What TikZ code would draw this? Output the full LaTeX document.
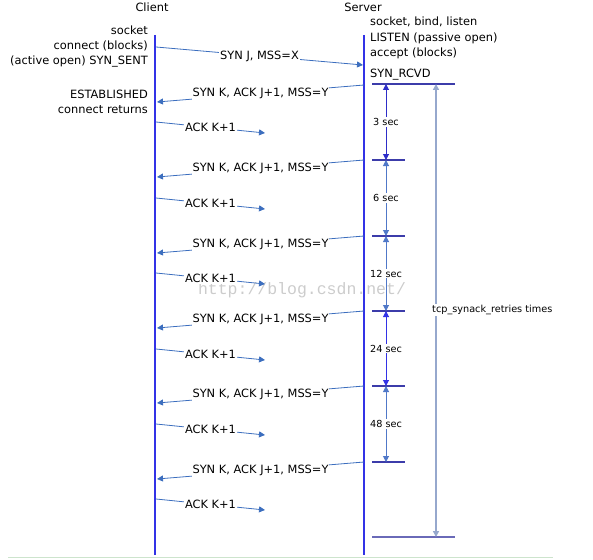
\documentclass[tikz,border=0pt]{standalone}
\usepackage{fontspec}
\setmainfont{DejaVu Sans}
\newfontfamily\markfont{Liberation Mono}
\usetikzlibrary{arrows.meta}

\definecolor{lifeblue}{RGB}{50,50,230}
\definecolor{msgblue}{RGB}{60,110,190}
\definecolor{tickblue}{RGB}{60,60,170}
\definecolor{timerdark}{RGB}{45,45,200}
\definecolor{timersteel}{RGB}{80,120,200}
\definecolor{retryblue}{RGB}{150,168,205}
\definecolor{floorgreen}{RGB}{205,228,205}

\begin{document}
\begin{tikzpicture}[x=1pt, y=-1pt,
    txt/.style={inner sep=0pt, font=\fontsize{11.4}{13}\selectfont},
    small/.style={inner sep=1pt, fill=white, text=black, font=\fontsize{9.7}{11}\selectfont},
    lifeline/.style={draw=lifeblue, line width=2pt},
    msg/.style={draw=msgblue, line width=0.8pt,
        -{Triangle[width=6pt,length=6pt]}},
    msglabel/.style={txt, fill=white, inner sep=1pt},
    tick/.style={draw=tickblue, line width=1.2pt},
    timer/.style={line width=1pt, {Triangle[width=6pt,length=6pt]}-{Triangle[width=6pt,length=6pt]}}
]
    \useasboundingbox (0,0) rectangle (593,559);

    % watermark
    \node[text=gray!40, font=\markfont\fontsize{16.5}{18}\selectfont] (mark) at (302,290) {http://blog.csdn.net/};

    % lifelines
    \node[txt] (client) at (152,7) {Client};
    \node[txt] (server) at (363,7) {Server};
    \coordinate (ctop) at (155,35);
    \coordinate (cbot) at (155,555);
    \coordinate (stop) at (364,35);
    \coordinate (sbot) at (364,555);
    \draw[lifeline] (ctop) -- (cbot);
    \draw[lifeline] (stop) -- (sbot);
    \draw[floorgreen, line width=1pt] (8,557) -- (553,557);

    % client states
    \node[txt, anchor=east] (sock) at (148,30) {socket};
    \node[txt, anchor=east] (conn) at (148,46) {connect (blocks)};
    \node[txt, anchor=east] (sent) at (148,62) {(active open) SYN\_SENT};
    \node[txt, anchor=east] (est) at (148,94) {ESTABLISHED};
    \node[txt, anchor=east] (cret) at (148,110) {connect returns};

    % server states
    \node[txt, anchor=west] (bind) at (370,22) {socket, bind, listen};
    \node[txt, anchor=west] (listen) at (370,38) {LISTEN (passive open)};
    \node[txt, anchor=west] (accept) at (370,53) {accept (blocks)};
    \node[txt, anchor=west] (rcvd) at (370,75) {SYN\_RCVD};

    % SYN from client
    \coordinate (c0) at (156,47);
    \coordinate (s0) at (363,65);
    \draw[msg] (c0) -- node[msglabel] (synj) {SYN J, MSS=X} (s0);

    % SYN/ACK and ACK, retransmitted
    \coordinate (s1) at (364,85);
    \coordinate (c1) at (157,102);
    \coordinate (a1) at (156,122);
    \coordinate (e1) at (265,133);
    \draw[msg] (s1) -- node[msglabel] (synk1) {SYN K, ACK J+1, MSS=Y} (c1);
    \draw[msg] (a1) -- node[msglabel] (ack1) {ACK K+1} (e1);

    \coordinate (s2) at (364,160);
    \coordinate (c2) at (157,177);
    \coordinate (a2) at (156,198);
    \coordinate (e2) at (265,209);
    \draw[msg] (s2) -- node[msglabel] (synk2) {SYN K, ACK J+1, MSS=Y} (c2);
    \draw[msg] (a2) -- node[msglabel] (ack2) {ACK K+1} (e2);

    \coordinate (s3) at (364,236);
    \coordinate (c3) at (157,253);
    \coordinate (a3) at (156,273);
    \coordinate (e3) at (265,284);
    \draw[msg] (s3) -- node[msglabel] (synk3) {SYN K, ACK J+1, MSS=Y} (c3);
    \draw[msg] (a3) -- node[msglabel] (ack3) {ACK K+1} (e3);

    \coordinate (s4) at (364,311);
    \coordinate (c4) at (157,328);
    \coordinate (a4) at (156,349);
    \coordinate (e4) at (265,360);
    \draw[msg] (s4) -- node[msglabel] (synk4) {SYN K, ACK J+1, MSS=Y} (c4);
    \draw[msg] (a4) -- node[msglabel] (ack4) {ACK K+1} (e4);

    \coordinate (s5) at (364,386);
    \coordinate (c5) at (157,403);
    \coordinate (a5) at (156,424);
    \coordinate (e5) at (265,435);
    \draw[msg] (s5) -- node[msglabel] (synk5) {SYN K, ACK J+1, MSS=Y} (c5);
    \draw[msg] (a5) -- node[msglabel] (ack5) {ACK K+1} (e5);

    \coordinate (s6) at (364,462);
    \coordinate (c6) at (157,479);
    \coordinate (a6) at (156,499);
    \coordinate (e6) at (265,510);
    \draw[msg] (s6) -- node[msglabel] (synk6) {SYN K, ACK J+1, MSS=Y} (c6);
    \draw[msg] (a6) -- node[msglabel] (ack6) {ACK K+1} (e6);

    % timer marks
    \draw[tick] (372,84) -- (455,84);
    \draw[tick] (372,160) -- (405,160);
    \draw[tick] (372,236) -- (405,236);
    \draw[tick] (372,311) -- (405,311);
    \draw[tick] (372,386) -- (405,386);
    \draw[tick] (372,462) -- (405,462);
    \draw[draw={rgb,255:red,106;green,106;blue,184}, line width=1.5pt] (372,537) -- (455,537);

    \coordinate (r0) at (386,84);
    \coordinate (r1) at (386,160);
    \coordinate (r2) at (386,236);
    \coordinate (r3) at (386,311);
    \coordinate (r4) at (386,386);
    \coordinate (r5) at (386,462);
    \draw[timer, timerdark] (r0) -- node[small] (t3) {3 sec} (r1);
    \draw[timer, timersteel] (r1) -- node[small] (t6) {6 sec} (r2);
    \draw[timer, timersteel] (r2) -- node[small] (t12) {12 sec} (r3);
    \draw[timer, lifeblue] (r3) -- node[small] (t24) {24 sec} (r4);
    \draw[timer, timersteel] (r4) -- node[small] (t48) {48 sec} (r5);

    % whole retry span
    \coordinate (rtop) at (436,84);
    \coordinate (rbot) at (436,537);
    \draw[timer, retryblue, line width=1.5pt] (rtop) -- (rbot);
    \node[small, anchor=west] (retries) at (431,310) {tcp\_synack\_retries times};
\end{tikzpicture}
\end{document}
